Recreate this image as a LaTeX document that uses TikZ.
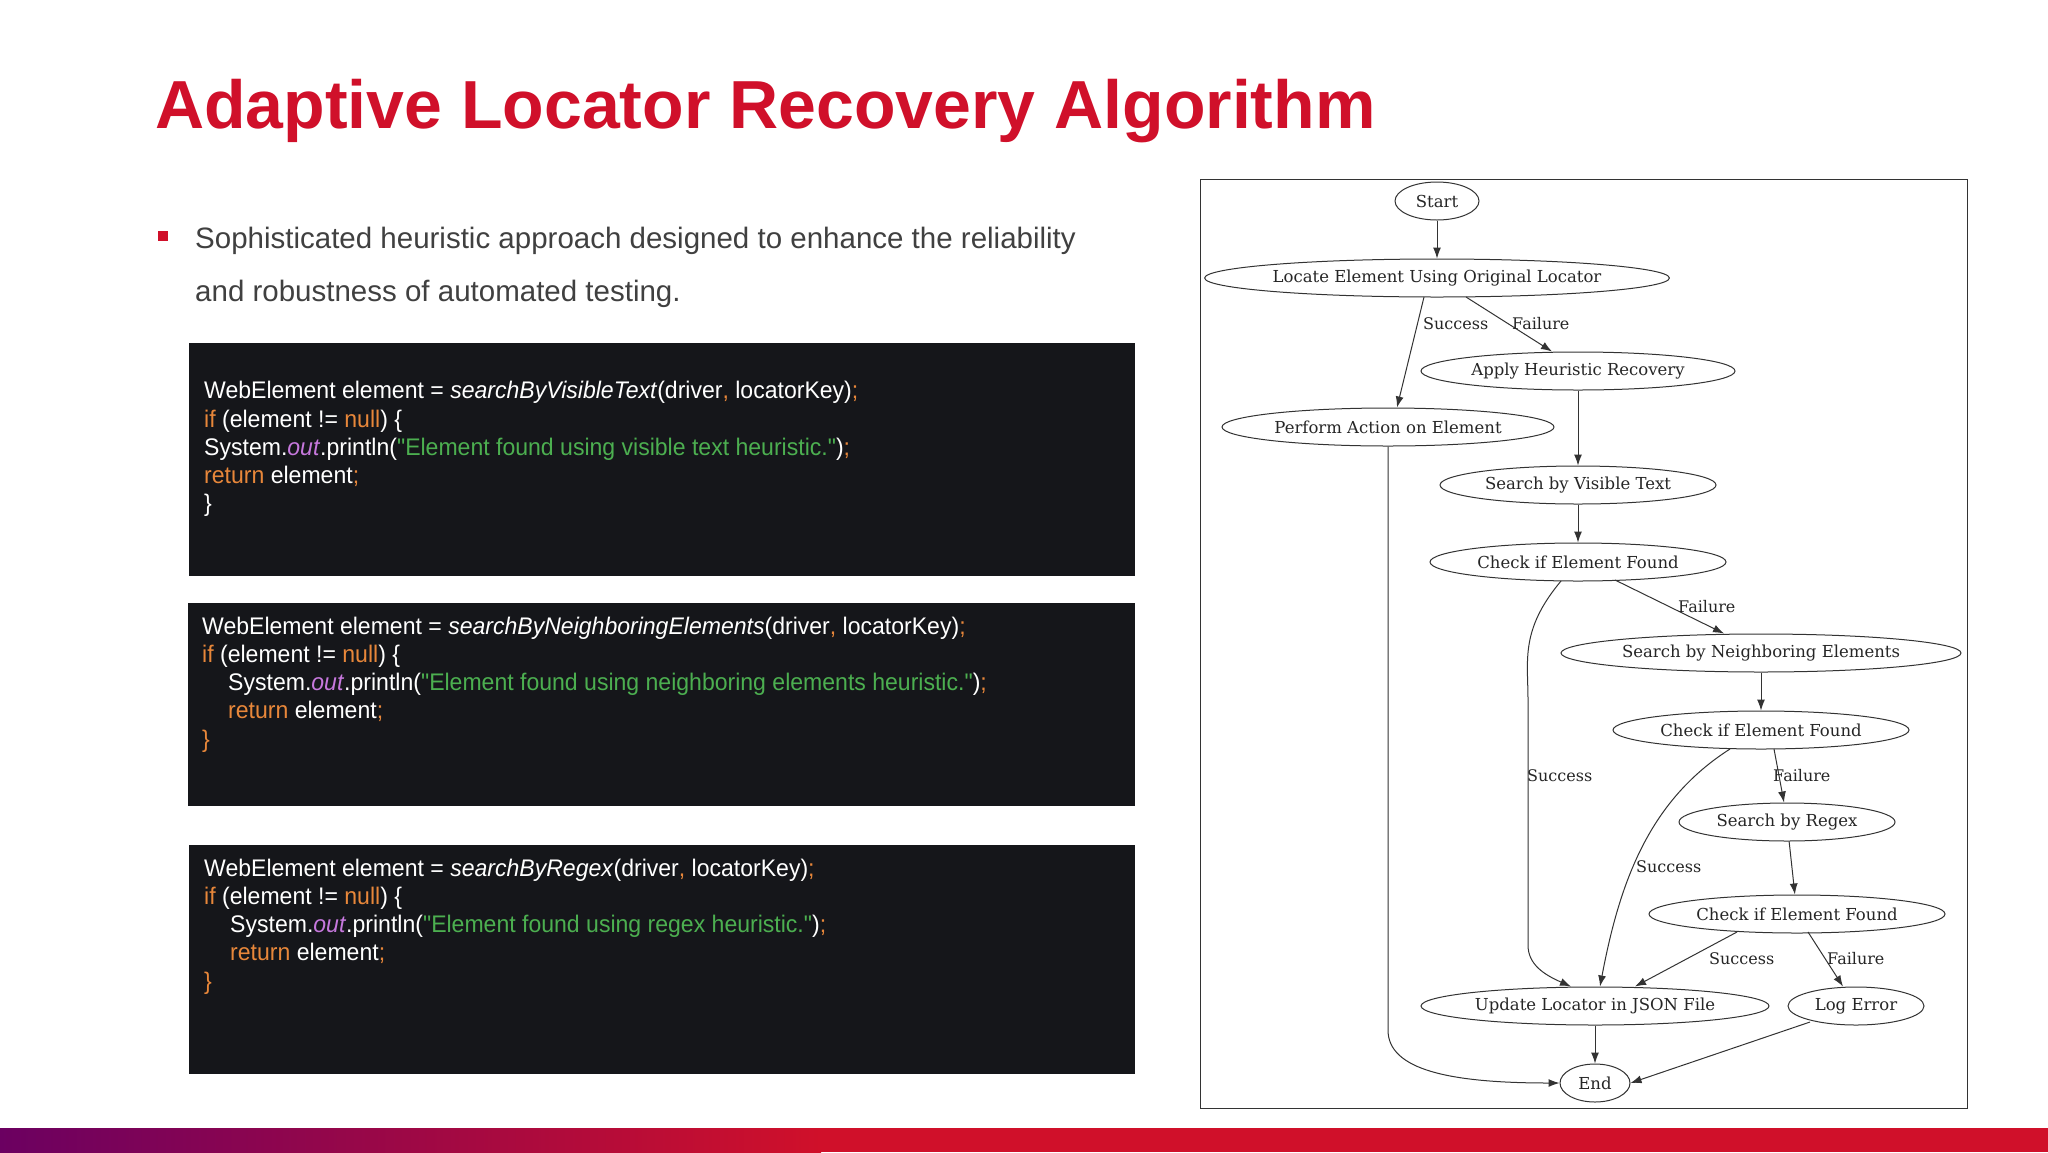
\documentclass[tikz,border=0pt]{standalone}
\usepackage{fontspec}
\setmainfont{Liberation Sans}
\newfontfamily\codefont[FakeStretch=0.96]{Liberation Sans}
\newfontfamily\gvfont{DejaVu Serif}
\usetikzlibrary{shapes.geometric,arrows.meta}
\definecolor{titlered}{HTML}{D0102A}
\definecolor{bodygray}{HTML}{404040}
\definecolor{codebg}{HTML}{15161A}
\definecolor{kw}{HTML}{E8873A}
\definecolor{pur}{HTML}{C678DD}
\definecolor{str}{HTML}{4CAF50}
\definecolor{gvline}{HTML}{333333}
\begin{document}
\begin{tikzpicture}[x=1pt,y=-1pt,
  codebox/.style={fill=codebg,draw=none},
  code/.style={anchor=base west,inner sep=0pt,text=white,font=\codefont\fontsize{24}{28}\selectfont},
  gv/.style={ellipse,draw=gvline,line width=1pt,inner sep=0pt,minimum height=38pt,font=\gvfont\fontsize{16.5}{19}\selectfont,text=black!85},
  lab/.style={anchor=west,inner sep=1pt,font=\gvfont\fontsize{16}{18}\selectfont,text=black!85},
  ed/.style={draw=gvline,line width=1pt,-{Latex[length=11pt,width=8pt]}}]
\useasboundingbox (0,0) rectangle (2048,1152);
\fill[white] (0,0) rectangle (2048,1152);
% title
\node[anchor=base west,inner sep=0pt,text=titlered,font=\bfseries\fontsize{68}{80}\selectfont] (title) at (155,128) {Adaptive Locator Recovery Algorithm};
% bullet
\fill[titlered] (158,231) rectangle (168,241);
\node[anchor=base west,inner sep=0pt,text=bodygray,font=\fontsize{29.5}{34}\selectfont] (b1) at (195,248) {Sophisticated heuristic approach designed to enhance the reliability};
\node[anchor=base west,inner sep=0pt,text=bodygray,font=\fontsize{29.5}{34}\selectfont] (b2) at (195,301) {and robustness of automated testing.};
% code boxes
\fill[codebox] (189,343) rectangle (1135,576);
\fill[codebox] (188,603) rectangle (1135,806);
\fill[codebox] (189,845) rectangle (1135,1074);
\node[code] (c11) at (204,398) {WebElement element = \textit{searchByVisibleText}(driver\textcolor{kw}{,} locatorKey)\textcolor{kw}{;}};
\node[code] (c12) at (204,427) {\textcolor{kw}{if} (element != \textcolor{kw}{null}) \{};
\node[code] (c13) at (204,455) {System.\textcolor{pur}{\textit{out}}.println(\textcolor{str}{"Element found using visible text heuristic."})\textcolor{kw}{;}};
\node[code] (c14) at (204,483) {\textcolor{kw}{return} element\textcolor{kw}{;}};
\node[code] (c15) at (204,511) {\}};
\node[code] (c21) at (202,634) {WebElement element = \textit{searchByNeighboringElements}(driver\textcolor{kw}{,} locatorKey)\textcolor{kw}{;}};
\node[code] (c22) at (202,662) {\textcolor{kw}{if} (element != \textcolor{kw}{null}) \{};
\node[code] (c23) at (228,690) {System.\textcolor{pur}{\textit{out}}.println(\textcolor{str}{"Element found using neighboring elements heuristic."})\textcolor{kw}{;}};
\node[code] (c24) at (228,718) {\textcolor{kw}{return} element\textcolor{kw}{;}};
\node[code] (c25) at (202,747) {\textcolor{kw}{\}}};
\node[code] (c31) at (204,876) {WebElement element = \textit{searchByRegex}(driver\textcolor{kw}{,} locatorKey)\textcolor{kw}{;}};
\node[code] (c32) at (204,904) {\textcolor{kw}{if} (element != \textcolor{kw}{null}) \{};
\node[code] (c33) at (230,932) {System.\textcolor{pur}{\textit{out}}.println(\textcolor{str}{"Element found using regex heuristic."})\textcolor{kw}{;}};
\node[code] (c34) at (230,960) {\textcolor{kw}{return} element\textcolor{kw}{;}};
\node[code] (c35) at (204,989) {\textcolor{kw}{\}}};
% graph frame
\draw[gvline,line width=1pt] (1200,179) rectangle (1967,1108);
\node[gv,minimum width=84pt] (start) at (1437,201) {Start};
\node[gv,minimum width=464pt] (locate) at (1437,278) {Locate Element Using Original Locator};
\node[gv,minimum width=314pt] (apply) at (1578,371) {Apply Heuristic Recovery};
\node[gv,minimum width=332pt] (perform) at (1388,427) {Perform Action on Element};
\node[gv,minimum width=276pt] (visible) at (1578,485) {Search by Visible Text};
\node[gv,minimum width=296pt] (check1) at (1578,562) {Check if Element Found};
\node[gv,minimum width=400pt] (neigh) at (1761,653) {Search by Neighboring Elements};
\node[gv,minimum width=296pt] (check2) at (1761,730) {Check if Element Found};
\node[gv,minimum width=216pt] (regex) at (1787,822) {Search by Regex};
\node[gv,minimum width=296pt] (check3) at (1797,914) {Check if Element Found};
\node[gv,minimum width=348pt] (update) at (1595,1006) {Update Locator in JSON File};
\node[gv,minimum width=136pt] (logerr) at (1856,1006) {Log Error};
\node[gv,minimum width=70pt] (end) at (1595,1083) {End};
% edges
\draw[ed] (start) -- (locate);
\draw[ed] (1424,297) -- (perform.north -| 1397,0) ;
\node[lab] (l1) at (1422,324) {Success};
\draw[ed] (1466,297) -- (apply.north -| 1552,0);
\node[lab] (l2) at (1511,324) {Failure};
\draw[ed] (apply) -- (visible);
\draw[ed] (visible) -- (check1);
\draw[ed] (1615,580) -- (neigh.north -| 1724,0);
\node[lab] (l3) at (1677,607) {Failure};
\draw[ed] (neigh) -- (check2);
\draw[ed] (1774,749) -- (regex.north -| 1784,0);
\node[lab] (l4) at (1772,776) {Failure};
\draw[ed] (regex) -- (check3);
\draw[ed] (1808,932) -- (logerr.north -| 1843,0);
\node[lab] (l5) at (1826,959) {Failure};
\draw[ed] (1737,932) -- (update.north -| 1635,0);
\node[lab] (l6) at (1708,959) {Success};
\draw[ed] (1730,749) .. controls (1650,800) and (1620,880) .. (update.north -| 1600,0);
\node[lab] (l7) at (1635,867) {Success};
\draw[ed] (1561,581) .. controls (1520,630) and (1528,660) .. (1528,700) -- (1528,945) .. controls (1528,965) and (1545,975) .. (update.north -| 1571,0);
\node[lab] (l8) at (1526,776) {Success};
\draw[ed] (update) -- (end);
\draw[ed] (1810,1022) -- (end.east);
\draw[ed] (perform.south -| 1388,0) -- (1388,1030) .. controls (1388,1070) and (1450,1083) .. (end.west);
% bottom bar
\fill[titlered] (800,1128) rectangle (2048,1152);
\shade[left color=purple!70!blue!80!black, right color=titlered, shading angle=90] (0,1128) rectangle (821,1152);
\end{tikzpicture}
\end{document}
